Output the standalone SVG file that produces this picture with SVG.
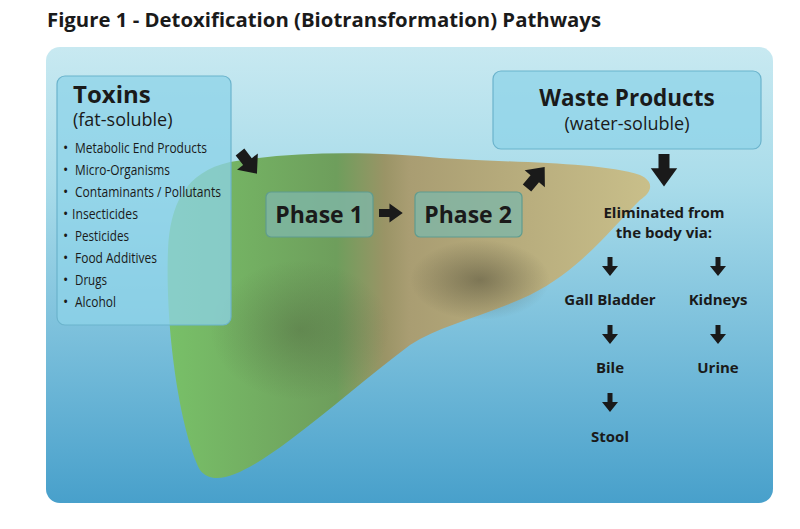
<svg xmlns="http://www.w3.org/2000/svg" width="800" height="529" viewBox="0 0 800 529">
<defs>
<linearGradient id="bg" x1="0" y1="0" x2="0" y2="1">
<stop offset="0" stop-color="#c8e9f1"/><stop offset="0.3" stop-color="#a9dcea"/><stop offset="1" stop-color="#48a0cb"/>
</linearGradient>
<linearGradient id="liver" x1="0" y1="0" x2="1" y2="0">
<stop offset="0" stop-color="#78c068"/><stop offset="0.35" stop-color="#6e9e5c"/><stop offset="0.45" stop-color="#9a9466"/><stop offset="0.5" stop-color="#a99d72"/><stop offset="1" stop-color="#c9bf8a"/>
</linearGradient>
<radialGradient id="shade" cx="0.5" cy="0.5" r="0.5">
<stop offset="0" stop-color="#3c3a2a" stop-opacity="0.45"/><stop offset="1" stop-color="#3c3a2a" stop-opacity="0"/>
</radialGradient>
<path id="ar" d="M0,-5 L11,-5 L11,-12 L25,0 L11,12 L11,5 L0,5 Z" fill="#1a1a1a"/>
<path id="sa" d="M0,-2.5 L9,-2.5 L9,-8 L19,0 L9,8 L9,2.5 L0,2.5 Z" fill="#1a1a1a"/>
</defs>
<style>
text{font-family:"Open Sans","Noto Sans","Liberation Sans",sans-serif;fill:#1a1a1a}
.b{font-weight:bold}
.box{fill:#8ed3e8;fill-opacity:0.75;stroke:#6bb3cc;stroke-width:1.2}
.ph{fill:#7fb7a8;fill-opacity:0.8;stroke:#5f9c8f;stroke-width:1.2}
.li{font-size:14px}
.e{font-size:15px;font-weight:bold;text-anchor:middle}
</style>
<text x="47" y="27" class="b" font-size="20" textLength="554" lengthAdjust="spacingAndGlyphs">Figure 1 - Detoxification (Biotransformation) Pathways</text>
<rect x="46" y="47" width="727" height="456" rx="14" fill="url(#bg)"/>
<g id="liver-shape">
<path d="M168,250 C170,205 185,172 230,162 C300,150 380,152 440,158 C520,163 600,162 640,175 C655,182 652,192 640,200 C610,230 580,270 530,295 C480,318 440,325 410,345 C370,375 330,410 290,440 C250,470 215,490 200,470 C180,430 165,330 168,250 Z" fill="url(#liver)"/>
<ellipse cx="480" cy="280" rx="70" ry="40" fill="url(#shade)"/>
<ellipse cx="300" cy="330" rx="90" ry="70" fill="url(#shade)" opacity="0.6"/>
</g>
<g id="toxins">
<rect class="box" x="57" y="76" width="174" height="249" rx="8"/>
<text x="73" y="103" class="b" font-size="24">Toxins</text>
<text x="73" y="126" font-size="18">(fat-soluble)</text>
<g class="li">
<text x="63" y="153">•</text><text x="75" y="153" textLength="132" lengthAdjust="spacingAndGlyphs">Metabolic End Products</text>
<text x="63" y="175">•</text><text x="75" y="175" textLength="95" lengthAdjust="spacingAndGlyphs">Micro-Organisms</text>
<text x="63" y="197">•</text><text x="75" y="197" textLength="146" lengthAdjust="spacingAndGlyphs">Contaminants / Pollutants</text>
<text x="63" y="219">•</text><text x="72" y="219" textLength="66" lengthAdjust="spacingAndGlyphs">Insecticides</text>
<text x="63" y="241">•</text><text x="75" y="241" textLength="54" lengthAdjust="spacingAndGlyphs">Pesticides</text>
<text x="63" y="263">•</text><text x="75" y="263" textLength="82" lengthAdjust="spacingAndGlyphs">Food Additives</text>
<text x="63" y="285">•</text><text x="75" y="285" textLength="32" lengthAdjust="spacingAndGlyphs">Drugs</text>
<text x="63" y="307">•</text><text x="75" y="307" textLength="41" lengthAdjust="spacingAndGlyphs">Alcohol</text>
</g>
</g>
<g id="waste">
<rect class="box" x="493" y="71" width="268" height="78" rx="8"/>
<text x="627" y="106" class="b" font-size="22.5" text-anchor="middle">Waste Products</text>
<text x="627" y="130" font-size="18" text-anchor="middle">(water-soluble)</text>
</g>
<g id="phase1"><rect class="ph" x="266" y="192" width="107" height="45" rx="5"/><text x="319" y="223" class="b" font-size="23" text-anchor="middle">Phase 1</text></g>
<g id="phase2"><rect class="ph" x="415" y="192" width="107" height="45" rx="5"/><text x="468" y="223" class="b" font-size="23" text-anchor="middle">Phase 2</text></g>
<g id="elim">
<text x="664" y="218" class="e">Eliminated from</text>
<text x="664" y="238" class="e">the body via:</text>
</g>
<g id="gall"><text x="610" y="305" class="e">Gall Bladder</text></g>
<g id="kidneys"><text x="718" y="305" class="e">Kidneys</text></g>
<g id="bile"><text x="610" y="373" class="e">Bile</text></g>
<g id="urine"><text x="718" y="373" class="e">Urine</text></g>
<g id="stool"><text x="610" y="442" class="e">Stool</text></g>
<g id="connectors">
<use href="#ar" transform="translate(240,152) rotate(52) scale(1.1)"/>
<use href="#ar" transform="translate(379,213) scale(0.95,0.8)"/>
<use href="#ar" transform="translate(527,188) rotate(-50) scale(1.1)"/>
<use href="#ar" transform="translate(664,154) rotate(90) scale(1.3,1.1)"/>
<use href="#sa" transform="translate(610,257) rotate(90)"/>
<use href="#sa" transform="translate(718,257) rotate(90)"/>
<use href="#sa" transform="translate(610,325) rotate(90)"/>
<use href="#sa" transform="translate(718,325) rotate(90)"/>
<use href="#sa" transform="translate(610,393) rotate(90)"/>
</g>
</svg>
